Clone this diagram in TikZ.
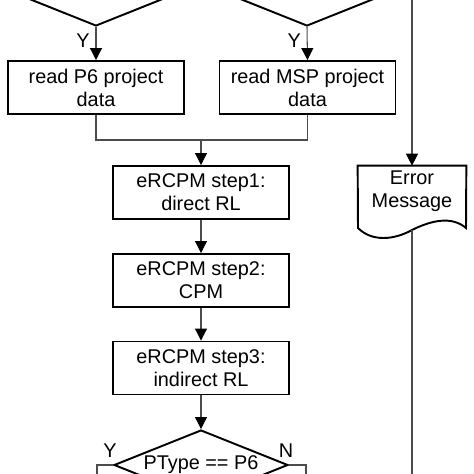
\documentclass[tikz,border=0pt]{standalone}
\usepackage{fontspec}
\setmainfont{Liberation Sans}
\usetikzlibrary{shapes.geometric,arrows.meta}

\begin{document}
\begin{tikzpicture}[x=0.02cm, y=-0.02cm,
  every node/.style={font=\fontsize{11.3}{13}\selectfont, align=center},
  caja/.style={draw, line width=1.1pt, minimum width=3.52cm, minimum height=1.06cm, inner sep=0pt},
  decision/.style={draw, diamond, aspect=2.5, line width=1.1pt, minimum width=3.48cm, minimum height=1.4cm, inner sep=0pt},
  conn/.style={draw=black!70, line width=0.6pt},
  flecha/.style={conn, -{Triangle[length=6.8pt,width=6.8pt,color=black]}}]

% Recorte del marco
\clip (0,0) rectangle (474,474);

% Decisiones superiores (cortadas por el borde)
\node[decision] (decP6) at (96,-9) {};
\node[decision] (decMSP) at (307,-9) {};

% Lectura de datos
\node[caja] (leerP6) at (96,87.5) {read P6 project\\data};
\node[caja] (leerMSP) at (307.5,87.5) {read MSP project\\data};
\draw[flecha] (decP6.south) -- node[pos=0.4, left] (siP6) {Y} (leerP6.north);
\draw[flecha] (decMSP.south) -- node[pos=0.4, left] (siMSP) {Y} (leerMSP.north);

% Union de ramas
\coordinate (union) at (201,140);
\draw[conn] (leerP6.south) |- (union) -| (leerMSP.south);

% Pasos eRCPM
\node[caja] (paso1) at (201,192.5) {eRCPM step1:\\direct RL};
\node[caja] (paso2) at (201,280.5) {eRCPM step2:\\CPM};
\node[caja] (paso3) at (201,368) {eRCPM step3:\\indirect RL};
\draw[flecha] (union) -- (paso1.north);
\draw[flecha] (paso1.south) -- (paso2.north);
\draw[flecha] (paso2.south) -- (paso3.north);

% Decision final
\node[decision] (decTipo) at (201,465) {PType == P6};
\draw[flecha] (paso3.south) -- (decTipo.north);
\node (siTipo) at (110,451) {Y};
\node (noTipo) at (286,451) {N};
\coordinate (finY) at (97,480);
\coordinate (finN) at (306,480);
\draw[conn] (decTipo.west) -| (finY);
\draw[conn] (decTipo.east) -| (finN);

% Mensaje de error (documento)
\node[minimum width=2.16cm, minimum height=1.02cm, inner sep=0pt] (error) at (412,191.5) {Error\\Message};
\draw[line width=1.1pt] (error.north west) -- (error.north east) -- (466,228)
  .. controls (452,216) and (432,220) .. (412,230)
  .. controls (394,240) and (372,242) .. (358,228) -- cycle;
\coordinate (errIni) at (412,-10);
\coordinate (errSal) at (412,230);
\coordinate (errFin) at (412,480);
\draw[flecha] (errIni) -- (error.north);
\draw[conn] (errSal) -- (errFin);

\end{tikzpicture}
\end{document}
